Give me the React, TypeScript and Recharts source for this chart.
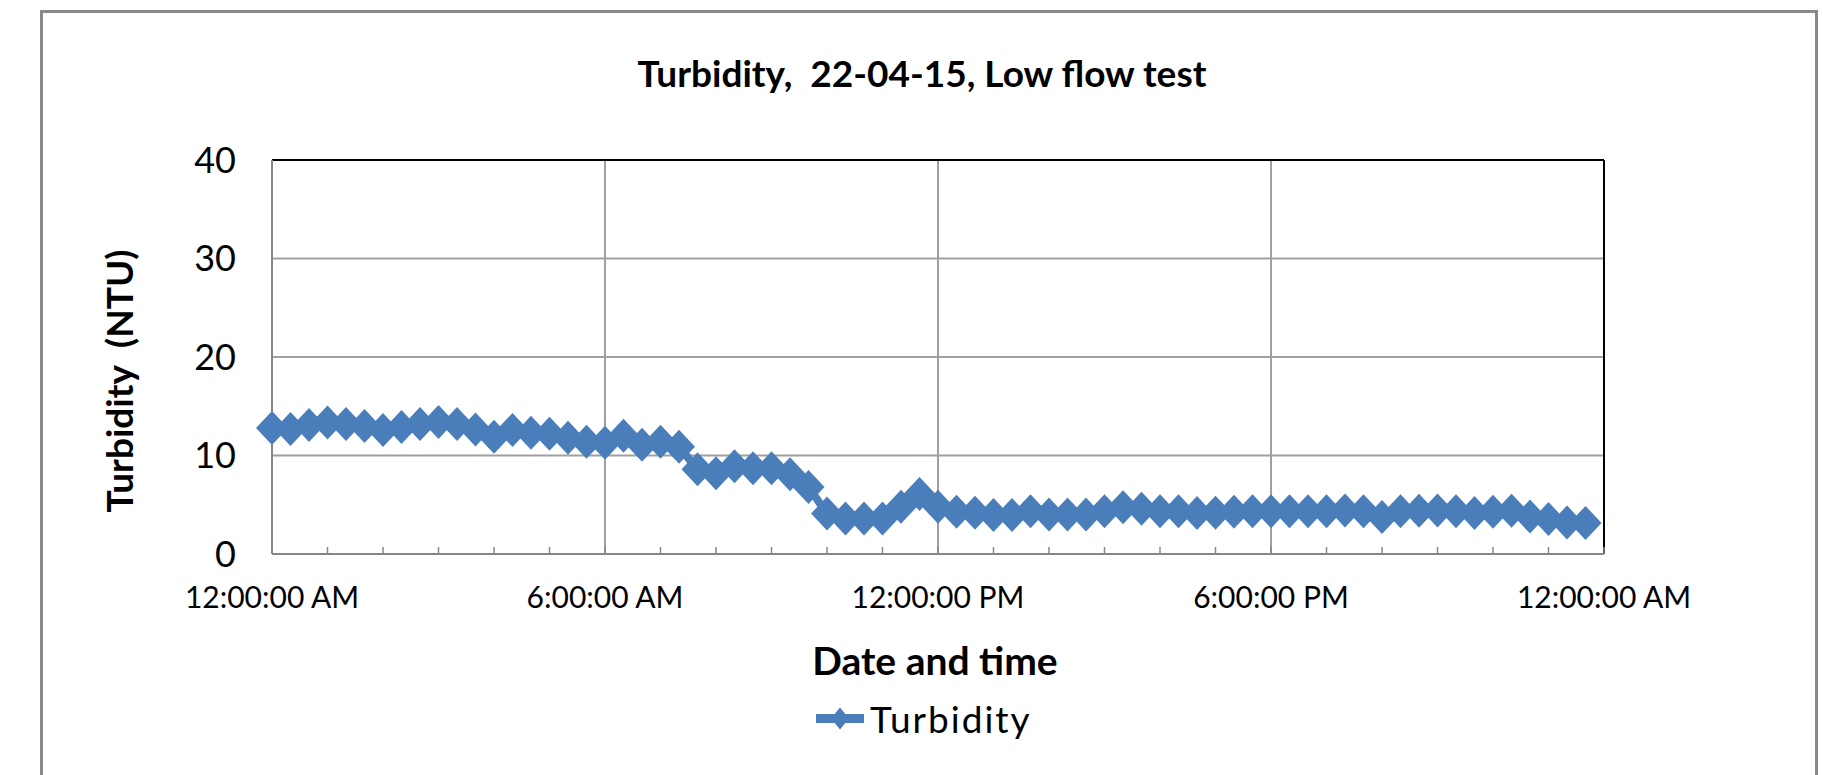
import {
  LineChart,
  Line,
  XAxis,
  YAxis,
  CartesianGrid,
  ReferenceLine,
} from "recharts";

const BLUE = "#4A7EBB";
const FONT = "Lato, 'Noto Sans', sans-serif";

// one reading every 20 minutes, starting at midnight
const SAMPLE_MINUTES = 20;
const turbidity = [
  12.8, 12.7, 13.1, 13.35, 13.2, 13.0, 12.6, 12.9, 13.2, 13.4, 13.2, 12.65,
  11.9, 12.6, 12.3, 12.2, 11.8, 11.4, 11.3, 12.0, 11.1, 11.4, 10.9, 8.6,
  8.2, 8.9, 8.7, 8.7, 8.1, 6.8, 4.1, 3.6, 3.6, 3.6, 4.8, 6.1,
  4.8, 4.3, 4.2, 3.95, 3.95, 4.35, 4.0, 4.0, 4.0, 4.35, 4.75, 4.6,
  4.35, 4.35, 4.15, 4.2, 4.3, 4.35, 4.35, 4.35, 4.35, 4.35, 4.42, 4.35,
  3.75, 4.35, 4.4, 4.42, 4.35, 4.15, 4.3, 4.4, 3.8, 3.55, 3.2, 3.15,
];

const hourTicks = [
  0, 1, 2, 3, 4, 5, 6, 7, 8, 9, 10, 11, 12, 13, 14, 15, 16, 17, 18, 19, 20,
  21, 22, 23, 24,
];
const majorHours = [6, 12, 18];
const xTickLabels: Record<number, string> = {
  0: "12:00:00 AM",
  6: "6:00:00 AM",
  12: "12:00:00 PM",
  18: "6:00:00 PM",
  24: "12:00:00 AM",
};
const yTicks = [0, 10, 20, 30, 40];

const data = turbidity.map((v, i) => ({
  hour: (i * SAMPLE_MINUTES) / 60,
  turbidity: v,
}));

function Diamond(props: any) {
  const { cx, cy, index } = props;
  if (cx == null || cy == null) return null;
  const w = 16;
  const h = 17;
  return (
    <polygon
      key={index}
      points={`${cx},${cy - h} ${cx + w},${cy} ${cx},${cy + h} ${cx - w},${cy}`}
      fill={BLUE}
    />
  );
}

export default function App() {
  return (
    <div
      style={{
        position: "absolute",
        left: 0,
        top: 0,
        width: 1823,
        height: 775,
        overflow: "hidden",
        background: "#fff",
        fontFamily: FONT,
        color: "#000",
      }}
    >
      <div
        style={{
          position: "absolute",
          left: 40,
          top: 10,
          width: 1772,
          height: 900,
          border: "3px solid #898989",
        }}
      />
      <div
        style={{
          position: "absolute",
          left: 922,
          top: 72,
          transform: "translate(-50%, -50%)",
          whiteSpace: "pre",
          fontSize: 37,
          fontWeight: 700,
        }}
      >
        {"Turbidity,  22-04-15, Low flow test"}
      </div>
      <div
        style={{
          position: "absolute",
          left: 118,
          top: 381,
          transform: "translate(-50%, -50%) rotate(-90deg)",
          whiteSpace: "pre",
          fontSize: 37,
          fontWeight: 700,
        }}
      >
        {"Turbidity  (NTU)"}
      </div>
      <div
        style={{
          position: "absolute",
          left: 935,
          top: 660,
          transform: "translate(-50%, -50%)",
          whiteSpace: "nowrap",
          fontSize: 39,
          fontWeight: 700,
        }}
      >
        Date and time
      </div>
      <div
        style={{
          position: "absolute",
          left: 816,
          top: 718,
          transform: "translateY(-50%)",
          display: "flex",
          alignItems: "center",
          whiteSpace: "nowrap",
          fontSize: 37,
          letterSpacing: 2,
        }}
      >
        <svg width={48} height={26}>
          <line x1={0} y1={13} x2={48} y2={13} stroke={BLUE} strokeWidth={9} />
          <polygon points="24,2 33,13 24,24 15,13" fill={BLUE} />
        </svg>
        <span style={{ marginLeft: 6 }}>Turbidity</span>
      </div>
      <div style={{ position: "absolute", left: 0, top: 0 }}>
        <LineChart
          width={1823}
          height={775}
          data={data}
          margin={{ top: 160, right: 219, bottom: 161, left: 212 }}
        >
          <CartesianGrid
            vertical={false}
            stroke="#a0a0a0"
            strokeWidth={2}
          />
          {majorHours.map((h) => (
            <ReferenceLine
              key={h}
              x={h}
              stroke="#a0a0a0"
              strokeWidth={2}
            />
          ))}
          <ReferenceLine y={40} stroke="#000" strokeWidth={2} />
          <ReferenceLine x={24} stroke="#000" strokeWidth={2} />
          <XAxis
            dataKey="hour"
            type="number"
            domain={[0, 24]}
            ticks={hourTicks}
            interval={0}
            height={60}
            tickSize={-7}
            tickMargin={40}
            tickFormatter={(v: number) => xTickLabels[v] ?? ""}
            tick={{ fontSize: 30, fill: "#000", fontFamily: FONT }}
            axisLine={{ stroke: "#868686", strokeWidth: 2 }}
            tickLine={{ stroke: "#868686", strokeWidth: 1.5 }}
          />
          <YAxis
            domain={[0, 40]}
            ticks={yTicks}
            width={60}
            tickSize={0}
            tickMargin={36}
            tickLine={false}
            tick={{ fontSize: 36, fill: "#000", fontFamily: FONT }}
            axisLine={{ stroke: "#868686", strokeWidth: 2 }}
          />
          <Line
            type="linear"
            dataKey="turbidity"
            stroke={BLUE}
            strokeWidth={8}
            dot={Diamond}
            activeDot={false}
            isAnimationActive={false}
          />
        </LineChart>
      </div>
    </div>
  );
}
